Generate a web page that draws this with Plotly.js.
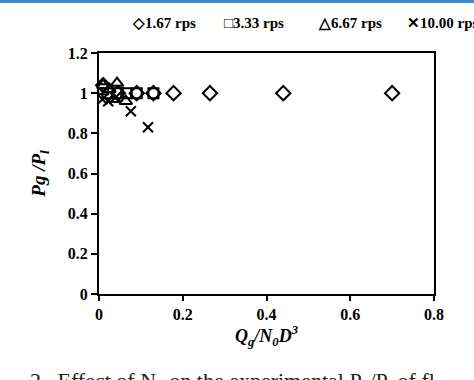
<!DOCTYPE html>
<html>
<head>
<meta charset="utf-8">
<script src="https://cdn.plot.ly/plotly-3.0.1.min.js"></script>
<style>html,body{margin:0;padding:0;background:#fff;overflow:hidden}#chart{width:474px;height:380px}</style>
</head>
<body>
<div id="chart"></div>
<script>
const seriesNames = ["1.67 rps", "3.33 rps", "6.67 rps", "10.00 rps"];
const legendGlyphs = ["\u25C7", "\u25A1", "\u25B3", "\u2715"];
const x167 = [0.01, 0.045, 0.09, 0.13, 0.178, 0.265, 0.44, 0.70];
const y167 = [1.04, 1.0, 1.0, 1.0, 1.0, 1.0, 1.0, 1.0];
const x333 = [0.01, 0.02, 0.045, 0.065, 0.09, 0.13];
const y333 = [1.02, 1.0, 1.0, 1.0, 1.0, 1.0];
const x667 = [0.01, 0.025, 0.035, 0.043, 0.064];
const y667 = [1.04, 1.02, 0.97, 1.05, 0.96];
const x1000 = [0.008, 0.022, 0.04, 0.076, 0.117];
const y1000 = [0.97, 0.96, 0.98, 0.91, 0.83];
const xTicks = [0, 0.2, 0.4, 0.6, 0.8];
const yTicks = [0, 0.2, 0.4, 0.6, 0.8, 1, 1.2];
const caption = "2.\u00A0 Effect of N<sub>0</sub> on the experimental P<sub>g</sub>/P<sub>l</sub> of fl";

const serif = "Liberation Serif, Times New Roman, serif";
const symbols = ["diamond-open", "square-open", "triangle-up-open", "x-thin-open"];
const xs = [x167, x333, x667, x1000];
const ys = [y167, y333, y667, y1000];
const sizes = [11, 10, 11, 10];

const traces = seriesNames.map((n, i) => ({
  type: "scatter", mode: "markers", name: n, x: xs[i], y: ys[i],
  marker: {symbol: symbols[i], size: sizes[i], color: "#000", line: {color: "#000", width: 2}},
  showlegend: false, cliponaxis: false
}));

const legX = [130, 222, 316, 405];
const annotations = seriesNames.map((n, i) => ({
  xref: "paper", yref: "paper", x: (legX[i] - 99) / 335, y: (294 - 23) / 241,
  xanchor: "left", yanchor: "middle", showarrow: false,
  text: "<b>" + legendGlyphs[i] + n + "</b>",
  font: {family: serif, size: 15, color: "#000"}
}));
annotations.push({
  xref: "paper", yref: "paper", x: (28 - 99) / 335, y: (294 - 382) / 241,
  xanchor: "left", yanchor: "middle", showarrow: false,
  text: caption, font: {family: serif, size: 22, color: "#222"}
});

const layout = {
  width: 474, height: 380,
  margin: {l: 99, r: 40, t: 53, b: 86},
  paper_bgcolor: "#fff", plot_bgcolor: "#fff",
  showlegend: false,
  font: {family: serif, color: "#000"},
  xaxis: {
    range: [0, 0.8], tickvals: xTicks, ticktext: xTicks.map(v => "<b>" + v + "</b>"),
    showline: true, linecolor: "#000", linewidth: 2, mirror: true,
    ticks: "outside", ticklen: 5, tickwidth: 2, tickcolor: "#000",
    showgrid: false, zeroline: false,
    tickfont: {family: serif, size: 16, color: "#000"},
    title: {text: "<b><i>Q<sub>g</sub>/N<sub>0</sub>D<sup>3</sup></i></b>", font: {family: serif, size: 18, color: "#000"}, standoff: 6}
  },
  yaxis: {
    range: [0, 1.2], tickvals: yTicks, ticktext: yTicks.map(v => "<b>" + v + "</b>"),
    showline: true, linecolor: "#000", linewidth: 2, mirror: true,
    ticks: "outside", ticklen: 6, tickwidth: 2, tickcolor: "#000",
    showgrid: false, zeroline: false,
    tickfont: {family: serif, size: 16, color: "#000"},
    title: {text: "<b><i>Pg /P<sub>l</sub></i></b>", font: {family: serif, size: 19, color: "#000"}, standoff: 17}
  },
  shapes: [{
    type: "rect", xref: "paper", yref: "paper",
    x0: -99 / 335, x1: 375 / 335, y0: (294 - 3) / 241, y1: 294 / 241,
    fillcolor: "#3d8bcd", line: {width: 0}
  }],
  annotations: annotations
};

Plotly.newPlot("chart", traces, layout, {displayModeBar: false, staticPlot: true});
</script>
</body>
</html>
